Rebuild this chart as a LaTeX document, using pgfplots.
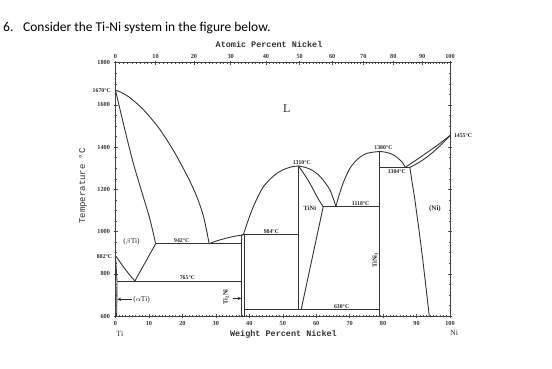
\documentclass[border=0pt]{standalone}
\usepackage{pgfplots}
\pgfplotsset{compat=1.18}
\usepackage{fontspec}
\setmainfont{Liberation Serif}
\newfontfamily\titlefont{Carlito}
\newfontfamily\monofont{Liberation Mono}
\begin{document}
\begin{tikzpicture}
\useasboundingbox (0bp,0bp) rectangle (552bp,369bp);
\node[anchor=base west, inner sep=0pt, font=\titlefont\fontsize{13.5}{15}\selectfont] at (3bp,337bp) {\makebox[20bp][l]{6.}Consider the Ti-Ni system in the figure below.};
\xdef\minorat{0}
\foreach \a in {1,...,99}{\pgfmathsetmacro\w{100/(1+(100-\a)*47.87/(\a*58.69))}\xdef\minorat{\minorat,\w}}
\tikzset{lab/.style={font=\bfseries\fontsize{5.8}{6}\selectfont, text=black!85, inner sep=0.5pt}}
\pgfplotsset{
  common/.style={at={(115.5bp,53bp)}, anchor=south west, scale only axis,
    width=334.5bp, height=253.3bp, xmin=0, xmax=100, ymin=600, ymax=1800,
    axis line style={black!75, line width=0.8bp},
    tick align=center, major tick length=4bp, minor tick length=2bp,
    tick style={black!70, line width=0.5bp},
    tick label style={font=\bfseries\fontsize{6.3}{7}\selectfont, text=black!80},
    /pgf/number format/assume math mode=true,
    /pgf/number format/set thousands separator={}},
  ph/.style={black!80, line width=0.9bp, no marks},
}
% top axis: atomic percent
\begin{axis}[common,
  axis x line*=top, axis y line=none,
  xtick={0,11.99,23.46,34.44,44.97,55.08,64.78,74.10,83.06,91.69,100},
  xticklabels={0,10,20,30,40,50,60,70,80,90,100},
  minor xtick/.expanded={\minorat},
  xticklabel style={yshift=-1bp},
]
\addplot[draw=none] coordinates {(0,600)};
\end{axis}
% main axis: weight percent
\begin{axis}[common, clip=false,
  xtick={0,10,...,100}, minor x tick num=9,
  ytick={600,800,...,1800}, minor y tick num=3,
  xtick pos=left, ytick pos=both, yticklabel pos=left,
]
% Ti-side liquidus
\addplot[ph, smooth] coordinates {(0,1670) (2,1657) (4.4,1633) (8.3,1578) (13.3,1483) (18.3,1357) (23.3,1203) (26.2,1078) (28.0,942)};
% Ti-side solidus
\addplot[ph, smooth] coordinates {(0,1670) (2.3,1515) (5.3,1325) (8.3,1165) (10.3,1058) (12.0,943)};
% beta transus
\addplot[ph, smooth] coordinates {(0.2,882) (1.5,852) (2.8,824) (4.2,795) (5.8,766)};
\addplot[ph] coordinates {(5.8,766) (12.0,942)};
% alpha boundary
\addplot[ph] coordinates {(0,882) (0.45,765) (0.35,600)};
% 942 and 765 lines
\addplot[ph] coordinates {(12.0,942) (37.7,942)};
\addplot[ph] coordinates {(0.45,765) (37.7,765)};
% liquidus from eutectic to peritectic
\addplot[ph, smooth] coordinates {(28.0,942) (29.7,953) (32,964) (34,972) (36,979) (38.2,984)};
% TiNi liquidus (left)
\addplot[ph, smooth] coordinates {(38.2,984) (39.7,1055) (41,1110) (42.5,1163) (44.2,1212) (46.2,1248) (48,1273) (50,1292) (52.5,1306) (54.7,1311)};
% Ti2Ni lines
\addplot[ph] coordinates {(37.7,984) (37.7,600)};
\addplot[ph] coordinates {(38.6,984) (38.6,600)};
\addplot[ph] coordinates {(37.7,984) (54.7,984)};
% TiNi left boundary
\addplot[ph] coordinates {(54.7,1311) (54.7,630)};
% TiNi right boundary
\addplot[ph, smooth] coordinates {(54.7,1311) (56.5,1270) (58.1,1229) (60.6,1155) (62.1,1118)};
\addplot[ph] coordinates {(62.1,1118) (55.5,630)};
% liquidus right of TiNi
\addplot[ph, smooth] coordinates {(54.7,1311) (58,1297) (61.1,1262) (64.1,1197) (65.9,1118)};
% TiNi3 liquidus
\addplot[ph, smooth] coordinates {(65.9,1118) (66.6,1160) (68.1,1232) (70.1,1300) (72.5,1345) (75.1,1370) (78.8,1379) (81,1375) (83.1,1363) (85.6,1331) (86.6,1304)};
% TiNi3 line
\addplot[ph] coordinates {(78.8,1379) (78.8,600)};
% 1118, 630, 1304 lines
\addplot[ph] coordinates {(62.1,1118) (78.8,1118)};
\addplot[ph] coordinates {(38.6,630) (78.8,630)};
\addplot[ph] coordinates {(78.8,1304) (88,1304)};
% (Ni) liquidus, solidus, solvus
\addplot[ph, smooth] coordinates {(86.6,1304) (90,1340) (93,1373) (96.5,1412) (100,1455)};
\addplot[ph, smooth] coordinates {(88,1304) (91,1330) (94,1364) (97,1406) (100,1455)};
\addplot[ph, smooth] coordinates {(88,1304) (88.7,1230) (89.5,1150) (91.6,900) (93.8,600)};
% arrows
\addplot[black!85, line width=0.6bp, -stealth] coordinates {(4.8,679) (0.6,679)};
\addplot[black!85, line width=0.6bp, -stealth] coordinates {(35.2,684) (37.6,684)};
% labels
\node[font=\fontsize{12}{12}\selectfont, text=black!85] at (axis cs:51.2,1584) {L};
\node[lab] at (axis cs:55.7,1328) {1310°C};
\node[lab] at (axis cs:80.1,1399) {1380°C};
\node[lab] at (axis cs:84.1,1286) {1304°C};
\node[lab, anchor=west] at (axis cs:101.0,1454) {1455°C};
\node[lab, anchor=east] at (axis cs:-1.2,1670) {1670°C};
\node[lab, anchor=east] at (axis cs:-0.8,882) {882°C};
\node[lab] at (axis cs:19.8,957) {942°C};
\node[lab] at (axis cs:21.5,781) {765°C};
\node[lab] at (axis cs:46.6,1000) {984°C};
\node[lab] at (axis cs:73.3,1134) {1118°C};
\node[lab] at (axis cs:67.6,645) {630°C};
\node[font=\fontsize{7.5}{8}\selectfont, text=black!85] at (axis cs:4.8,952) {($\beta$Ti)};
\node[font=\fontsize{7.5}{8}\selectfont, text=black!85] at (axis cs:7.8,679) {($\alpha$Ti)};
\node[font=\bfseries\fontsize{6.5}{7}\selectfont, text=black!85] at (axis cs:58.1,1110) {TiNi};
\node[font=\bfseries\fontsize{7}{8}\selectfont, text=black!85] at (axis cs:95.5,1106) {(Ni)};
\node[font=\bfseries\fontsize{6.5}{7}\selectfont, text=black!85, rotate=90] at (axis cs:77.6,865) {TiNi\textsubscript{3}};
\node[font=\bfseries\fontsize{6.5}{7}\selectfont, text=black!85, rotate=90] at (axis cs:33.0,690) {Ti\textsubscript{2}Ni};
\node[font=\monofont\bfseries\fontsize{8.5}{9}\selectfont, text=black!80] at (axis cs:45.9,1888) {Atomic Percent Nickel};
\node[font=\monofont\bfseries\fontsize{8.5}{9}\selectfont, text=black!80] at (axis cs:50.2,515) {Weight Percent Nickel};
\node[font=\fontsize{8}{9}\selectfont, text=black!80] at (axis cs:1.3,515) {Ti};
\node[font=\fontsize{8}{9}\selectfont, text=black!80] at (axis cs:101.2,518) {Ni};
\node[font=\monofont\fontsize{9}{10}\selectfont, text=black!80, rotate=90] at (axis cs:-9.7,1216) {Temperature °C};
\end{axis}
\end{tikzpicture}
\end{document}
